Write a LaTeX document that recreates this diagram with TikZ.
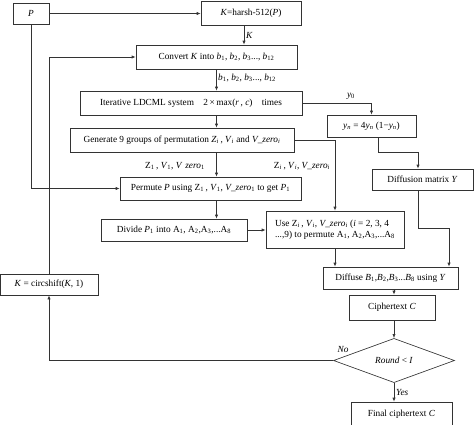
\documentclass[tikz,border=0pt]{standalone}
\usepackage{fontspec}
\setmainfont{Liberation Serif}
\usetikzlibrary{arrows.meta,shapes.geometric}
\newcommand\ix[2]{\textit{#1}\textsubscript{#2}}
\newcommand\ux[2]{#1\textsubscript{#2}}
\begin{document}
\begin{tikzpicture}[x=1pt,y=-1pt,
  ln/.style={line width=0.65pt,draw=black!80},
  arr/.style={ln,-{Latex[length=4pt,width=3.2pt]}},
  box/.style={ln,rectangle,inner sep=0pt,font=\fontsize{9.3}{11}\selectfont},
  lbl/.style={inner sep=1pt,font=\fontsize{9.3}{11}\selectfont}]
\useasboundingbox (0,0) rectangle (474,424);
\coordinate (col) at (394,0);
\node[box,minimum width=36pt,minimum height=21pt] (P) at (31,13.5) {\textit{P}};
\node[box,minimum width=100pt,minimum height=24pt] (H) at (251,13) {\textit{K}=harsh-512(\textit{P})};
\node[box,minimum width=161pt,minimum height=24pt] (CV) at (216.5,57) {Convert \textit{K} into \ix{b}{1}, \ix{b}{2}, \ix{b}{3}..., \ix{b}{12}};
\node[box,minimum width=222pt,minimum height=24pt] (IT) at (191,103) {Iterative LDCML system\quad 2\,×\,max(\textit{r}\,, \textit{c})\quad times};
\node[box,minimum width=224pt,minimum height=24pt] (GN) at (182,140) {Generate 9 groups of permutation \ix{Z}{\textit{i}}\,, \ix{V}{\textit{i}} and \textit{V\_zero}\textsubscript{\textit{i}}};
\node[box,minimum width=89pt,minimum height=22pt] (YN) at (371.5,126) {\ix{y}{\textit{n}} = 4\ix{y}{\textit{n}} (1−\ix{y}{\textit{n}})};
\node[box,minimum width=101pt,minimum height=21pt] (DM) at (422.5,179.5) {Diffusion matrix \textit{Y}};
\node[box,minimum width=181pt,minimum height=23pt] (PM) at (210.5,188.5) {Permute \textit{P} using \ux{Z}{1}\,, \ix{V}{1}, \textit{V\_zero}\textsubscript{1} to get \ix{P}{1}};
\node[box,minimum width=146pt,minimum height=22pt] (DV) at (174,230) {Divide \ix{P}{1} into \ux{A}{1}, \ux{A}{2},\ux{A}{3},...\ux{A}{8}};
\node[box,minimum width=138pt,minimum height=37pt,align=left] (US) at (335,229.5) {Use \ux{Z}{\textit{i}}\,, \ix{V}{\textit{i}}, \textit{V\_zero}\textsubscript{\textit{i}} (\textit{i} = 2, 3, 4\\...,9) to permute \ux{A}{1}, \ux{A}{2},\ux{A}{3},...\ux{A}{8}};
\node[box,minimum width=135pt,minimum height=22pt] (DF) at (390.5,278) {Diffuse \ix{B}{1},\ix{B}{2},\ix{B}{3}...\ix{B}{8} using \textit{Y}};
\node[box,minimum width=86pt,minimum height=25pt] (CT) at (392,307.5) {Ciphertext \textit{C}};
\node[box,diamond,minimum width=121pt,minimum height=43pt] (RD) at (394,360.5) {\textit{Round} < \textit{I}};
\node[box,minimum width=101pt,minimum height=24pt] (FN) at (401.5,414) {Final ciphertext \textit{C}};
\node[box,minimum width=98pt,minimum height=21pt] (CS) at (49,284.5) {\textit{K} = circshift(\textit{K}, 1)};
% labels
\node[lbl,anchor=west] (lK) at (245,35) {\textit{K}};
\node[lbl,anchor=west] (lb) at (217,78) {\ix{b}{1}, \ix{b}{2}, \ix{b}{3}..., \ix{b}{12}};
\node[lbl] (ly) at (351,96) {\ix{y}{0}};
\node[lbl] (lz1) at (175,166) {\ux{Z}{1}\,, \ix{V}{1}, \textit{V\ \,zero}\textsubscript{1}};
\node[lbl] (lzi) at (302,166) {\ux{Z}{\textit{i}}\,, \ix{V}{\textit{i}}, \textit{V\_zero}\textsubscript{\textit{i}}};
\node[lbl] (lno) at (343,349) {\textit{No}};
\node[lbl,anchor=west] (lyes) at (395,392) {\textit{Yes}};
% connectors
\draw[arr] (P.east) -- (P.east -| H.west);
\draw[arr] ([xshift=-7pt]H.south) -- ([xshift=-7pt]H.south |- CV.north);
\draw[arr] (CV.south) -- (CV.south |- IT.north);
\draw[arr] (CV.south |- IT.south) -- (CV.south |- GN.north);
\draw[arr] (IT.east) -| (YN.north);
\draw[arr] ([xshift=6.5pt]YN.south) -- ++(0,15) -| ([xshift=-4.5pt]DM.north);
\draw[arr] (GN.east) -| (US.north);
\draw[arr] (CV.south |- GN.south) -- (CV.south |- PM.north);
\draw[arr] (P.south) |- (PM.west);
\draw[arr] (CV.south |- PM.south) -- (CV.south |- DV.north);
\draw[arr] (DV.east) -- (DV.east -| US.west);
\draw[arr] (US.south) -- (US.south |- DF.north);
\draw[arr] ([xshift=-4.5pt]DM.south) -- ++(0,38) -| ([xshift=58.5pt]DF.north);
\draw[arr] (col |- DF.south) -- (col |- CT.north);
\draw[arr] (col |- CT.south) -- (RD.north);
\draw[arr] (RD.south) -- (col |- FN.north);
\draw[arr] (RD.west) -| (CS.south);
\draw[arr] (CS.north) |- (CV.west);
\end{tikzpicture}
\end{document}
